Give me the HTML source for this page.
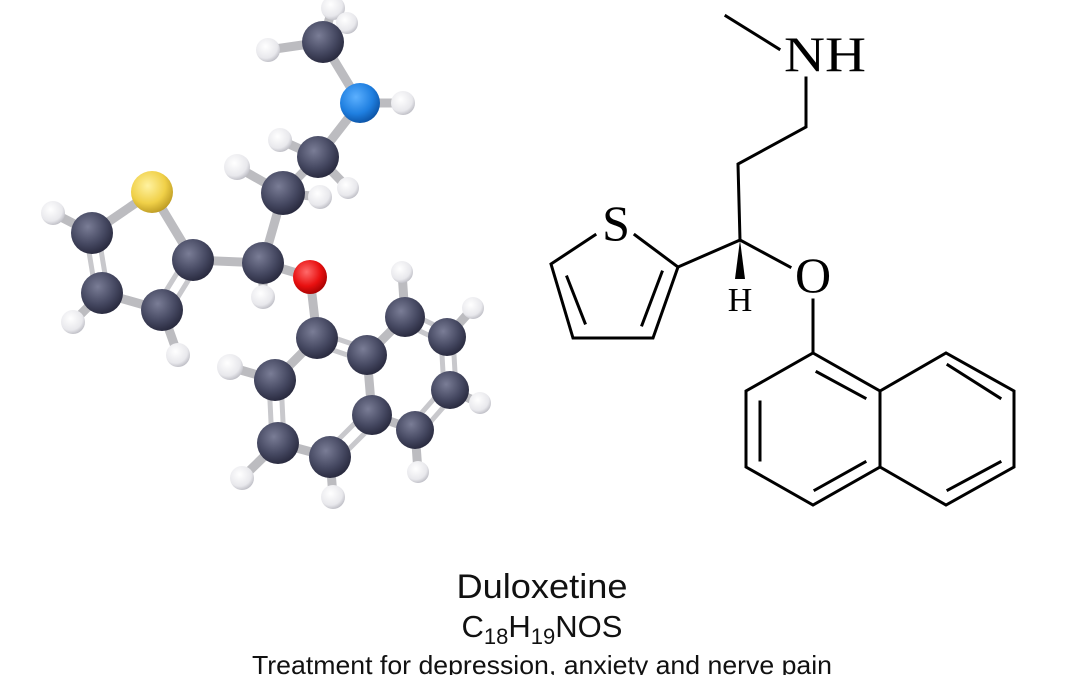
<!DOCTYPE html>
<html><head><meta charset="utf-8"><style>
html,body{margin:0;padding:0;background:#fff;width:1080px;height:675px;overflow:hidden}
</style></head><body>
<svg width="1080" height="675" viewBox="0 0 1080 675" xmlns="http://www.w3.org/2000/svg">
<defs>
<radialGradient id="gc" cx="0.4" cy="0.35" r="0.7"><stop offset="0" stop-color="#7a7d96"/><stop offset="0.6" stop-color="#454861"/><stop offset="1" stop-color="#25263a"/></radialGradient>
<radialGradient id="gh" cx="0.4" cy="0.35" r="0.7"><stop offset="0" stop-color="#ffffff"/><stop offset="0.7" stop-color="#e8e8ec"/><stop offset="1" stop-color="#b8b8c0"/></radialGradient>
<radialGradient id="gn" cx="0.4" cy="0.35" r="0.7"><stop offset="0" stop-color="#5cb0ff"/><stop offset="0.6" stop-color="#1f7fe0"/><stop offset="1" stop-color="#0a4fa0"/></radialGradient>
<radialGradient id="go" cx="0.4" cy="0.35" r="0.7"><stop offset="0" stop-color="#ff6a6a"/><stop offset="0.6" stop-color="#e81010"/><stop offset="1" stop-color="#a00000"/></radialGradient>
<radialGradient id="gs" cx="0.4" cy="0.35" r="0.7"><stop offset="0" stop-color="#fff2a0"/><stop offset="0.6" stop-color="#f0d048"/><stop offset="1" stop-color="#b89620"/></radialGradient>
</defs>
<g stroke="#bcbcc0" stroke-width="9" stroke-linecap="round">
<line x1="323" y1="42" x2="333" y2="5"/><line x1="323" y1="42" x2="347" y2="23"/><line x1="323" y1="42" x2="268" y2="50"/>
<line x1="323" y1="42" x2="360" y2="103"/><line x1="360" y1="103" x2="403" y2="103"/>
<line x1="360" y1="103" x2="318" y2="157"/><line x1="318" y1="157" x2="280" y2="140"/><line x1="318" y1="157" x2="348" y2="188"/>
<line x1="318" y1="157" x2="283" y2="193"/><line x1="283" y1="193" x2="237" y2="167"/><line x1="283" y1="193" x2="320" y2="197"/>
<line x1="283" y1="193" x2="263" y2="263"/><line x1="263" y1="263" x2="263" y2="297"/><line x1="263" y1="263" x2="310" y2="277"/>
<line x1="263" y1="263" x2="193" y2="260"/><line x1="193" y1="260" x2="152" y2="192"/><line x1="152" y1="192" x2="92" y2="233"/>
<line x1="92" y1="233" x2="53" y2="213"/><line x1="102" y1="293" x2="73" y2="322"/><line x1="102" y1="293" x2="162" y2="310"/>
<line x1="162" y1="310" x2="178" y2="355"/>
<line x1="310" y1="277" x2="317" y2="338"/><line x1="317" y1="338" x2="275" y2="380"/><line x1="275" y1="380" x2="230" y2="367"/>
<line x1="278" y1="443" x2="242" y2="478"/><line x1="278" y1="443" x2="330" y2="457"/><line x1="330" y1="457" x2="333" y2="497"/>
<line x1="367" y1="355" x2="372" y2="415"/><line x1="367" y1="355" x2="405" y2="317"/><line x1="405" y1="317" x2="402" y2="272"/>
<line x1="447" y1="337" x2="473" y2="308"/><line x1="450" y1="390" x2="480" y2="403"/><line x1="372" y1="415" x2="415" y2="430"/>
<line x1="415" y1="430" x2="418" y2="472"/>
</g>
<g stroke="#c8c8cc" stroke-width="5" stroke-linecap="round">
<line x1="86" y1="234" x2="96" y2="294"/><line x1="98" y1="232" x2="108" y2="292"/>
<line x1="187" y1="257" x2="156" y2="307"/><line x1="199" y1="263" x2="168" y2="313"/>
<line x1="317" y1="332" x2="367" y2="349"/><line x1="315" y1="344" x2="365" y2="361"/>
<line x1="269" y1="380" x2="272" y2="443"/><line x1="281" y1="380" x2="284" y2="443"/>
<line x1="327" y1="451" x2="369" y2="409"/><line x1="335" y1="463" x2="377" y2="421"/>
<line x1="405" y1="311" x2="447" y2="331"/><line x1="403" y1="323" x2="445" y2="343"/>
<line x1="441" y1="337" x2="444" y2="390"/><line x1="453" y1="337" x2="456" y2="390"/>
<line x1="446" y1="385" x2="411" y2="425"/><line x1="454" y1="395" x2="419" y2="435"/>
</g>
<g fill="url(#gh)">
<circle cx="333" cy="8" r="12"/><circle cx="347" cy="23" r="11"/><circle cx="268" cy="50" r="12"/><circle cx="403" cy="103" r="12"/>
<circle cx="280" cy="140" r="12"/><circle cx="348" cy="188" r="11"/><circle cx="237" cy="167" r="13"/>
<circle cx="263" cy="297" r="12"/><circle cx="53" cy="213" r="12"/><circle cx="73" cy="322" r="12"/><circle cx="178" cy="355" r="12"/>
<circle cx="230" cy="367" r="13"/><circle cx="242" cy="478" r="12"/><circle cx="333" cy="497" r="12"/><circle cx="402" cy="272" r="11"/>
<circle cx="473" cy="308" r="11"/><circle cx="480" cy="403" r="11"/><circle cx="418" cy="472" r="11"/>
</g>
<g fill="url(#gc)">
<circle cx="323" cy="42" r="21"/><circle cx="318" cy="157" r="21"/><circle cx="283" cy="193" r="22"/><circle cx="263" cy="263" r="21"/>
<circle cx="193" cy="260" r="21"/><circle cx="92" cy="233" r="21"/><circle cx="102" cy="293" r="21"/><circle cx="162" cy="310" r="21"/>
<circle cx="317" cy="338" r="21"/><circle cx="275" cy="380" r="21"/><circle cx="278" cy="443" r="21"/><circle cx="330" cy="457" r="21"/>
<circle cx="372" cy="415" r="20"/><circle cx="367" cy="355" r="20"/><circle cx="405" cy="317" r="20"/><circle cx="447" cy="337" r="19"/>
<circle cx="450" cy="390" r="19"/><circle cx="415" cy="430" r="19"/>
</g>
<circle cx="320" cy="197" r="12" fill="url(#gh)"/>
<circle cx="360" cy="103" r="20" fill="url(#gn)"/>
<circle cx="310" cy="277" r="17" fill="url(#go)"/>
<circle cx="152" cy="192" r="21" fill="url(#gs)"/>

<g stroke="#000" stroke-width="3" fill="none" stroke-linecap="square">
<line x1="726" y1="16" x2="779" y2="49"/>
<polyline points="806,78 806,127 738,164 740,240 678,267"/>
<line x1="740" y1="240" x2="790" y2="267"/>
<polyline points="635,235 678,267 653,338 573,338 551,264 595,235"/>
<line x1="662" y1="272" x2="642" y2="325"/><line x1="567" y1="277" x2="585" y2="323"/>
<line x1="813" y1="300" x2="813" y2="353"/>
<polygon points="813,353 880,391 880,467 813,505 746,467 746,391"/>
<polyline points="880,391 946,353 1014,391 1014,467 946,505 880,467"/>
<line x1="817" y1="372" x2="865" y2="398"/><line x1="760" y1="402" x2="760" y2="460"/><line x1="815" y1="490" x2="865" y2="462"/>
<line x1="948" y1="365" x2="1000" y2="398"/><line x1="1000" y1="462" x2="948" y2="490"/>
</g>
<polygon points="740,240 735,279 745,279" fill="#000"/>
<g font-family="'Liberation Serif',serif" fill="#000">
<text x="784" y="71" font-size="50" textLength="82" lengthAdjust="spacingAndGlyphs">NH</text>
<text x="813" y="292" font-size="50" text-anchor="middle">O</text>
<text x="616" y="240" font-size="50" text-anchor="middle">S</text>
<text x="740" y="311" font-size="34" text-anchor="middle">H</text>
</g>
<g font-family="'Liberation Sans',sans-serif" fill="#111" text-anchor="middle">
<text x="542" y="598" font-size="34" textLength="171" lengthAdjust="spacingAndGlyphs">Duloxetine</text>
<text x="542" y="637" font-size="31">C<tspan font-size="22" dy="7">18</tspan><tspan dy="-7">H</tspan><tspan font-size="22" dy="7">19</tspan><tspan dy="-7">NOS</tspan></text>
<text x="542" y="674" font-size="26" textLength="580" lengthAdjust="spacingAndGlyphs">Treatment for depression, anxiety and nerve pain</text>
</g>
</svg>
</body></html>
